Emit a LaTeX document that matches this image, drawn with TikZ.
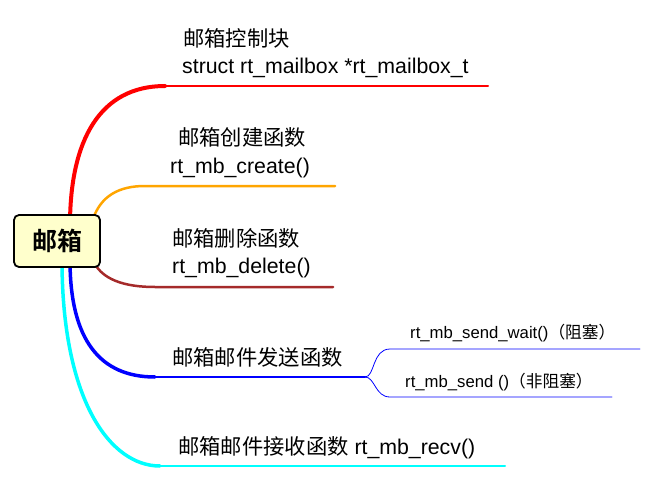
\documentclass[tikz,border=0pt]{standalone}
\usepackage{fontspec}
\setmainfont{Liberation Sans}
\newfontfamily\cjk{Noto Sans CJK SC}
\newfontfamily\cjkb{Noto Sans CJK SC Bold}
\begin{document}
\begin{tikzpicture}[x=1pt,y=-1pt,
  lab/.style={anchor=west,inner sep=0pt,font=\fontsize{21.3}{23}\selectfont},
  slab/.style={anchor=west,inner sep=0pt,font=\fontsize{16.7}{18}\selectfont},
  br/.style={line width=#1,line cap=round}]
\useasboundingbox (0,0) rectangle (655,481);
\definecolor{cream}{RGB}{255,255,204}
\definecolor{orng}{RGB}{255,165,0}
\definecolor{brwn}{RGB}{165,42,42}
\definecolor{cyn}{RGB}{0,255,255}
% branches
\coordinate (r0) at (165,86); \coordinate (r1) at (488,86);
\coordinate (o0) at (145,186); \coordinate (o1) at (335,186);
\coordinate (b0) at (155,287); \coordinate (b1) at (333,287);
\coordinate (u0) at (155,377); \coordinate (u1) at (365,377);
\coordinate (c0) at (160,466); \coordinate (c1) at (505,466);
\coordinate (s0) at (390,349); \coordinate (s1) at (640,349);
\coordinate (t0) at (390,397); \coordinate (t1) at (612,397);
\draw[red,br=4] (70,225) .. controls (70,140) and (100,86) .. (r0);
\draw[red,br=2] (r0) -- (r1);
\draw[orng,br=2.5] (92,222) .. controls (100,195) and (120,186) .. (o0) -- (o1);
\draw[brwn,br=2.5] (92,258) .. controls (100,280) and (125,287) .. (b0) -- (b1);
\draw[blue,br=3.5] (70,260) .. controls (70,340) and (100,377) .. (u0);
\draw[blue,br=2] (u0) -- (u1);
\draw[cyn,br=3.5] (62,260) .. controls (62,400) and (110,466) .. (c0);
\draw[cyn,br=2] (c0) -- (c1);
\draw[blue,br=0.8] (u1) .. controls (375,377) and (372,349) .. (s0) -- (s1);
\draw[blue,br=0.8] (u1) .. controls (375,377) and (375,397) .. (t0) -- (t1);
% central node
\node[draw=black,line width=1.8pt,fill=cream,rounded corners=5pt,minimum width=86pt,minimum height=52pt,font=\cjkb\fontsize{25}{27}\selectfont] (root) at (57,241) {邮箱};
% labels
\node[lab] (l1) at (183,38) {\cjk 邮箱控制块};
\node[lab] (l2) at (182,68) {struct rt\_mailbox *rt\_mailbox\_t};
\node[lab] (l3) at (178,137) {\cjk 邮箱创建函数};
\node[lab] (l4) at (170,168) {rt\_mb\_create()};
\node[lab] (l5) at (172,238) {\cjk 邮箱删除函数};
\node[lab] (l6) at (172,268) {rt\_mb\_delete()};
\node[lab] (l7) at (172,357) {\cjk 邮箱邮件发送函数};
\node[slab] (l8) at (410,333) {rt\_mb\_send\_wait()\cjk（阻塞）};
\node[slab] (l9) at (405,382) {rt\_mb\_send ()\cjk（非阻塞）};
\node[lab] (l10) at (178,448) {{\cjk 邮箱邮件接收函数} rt\_mb\_recv()};
\end{tikzpicture}
\end{document}
